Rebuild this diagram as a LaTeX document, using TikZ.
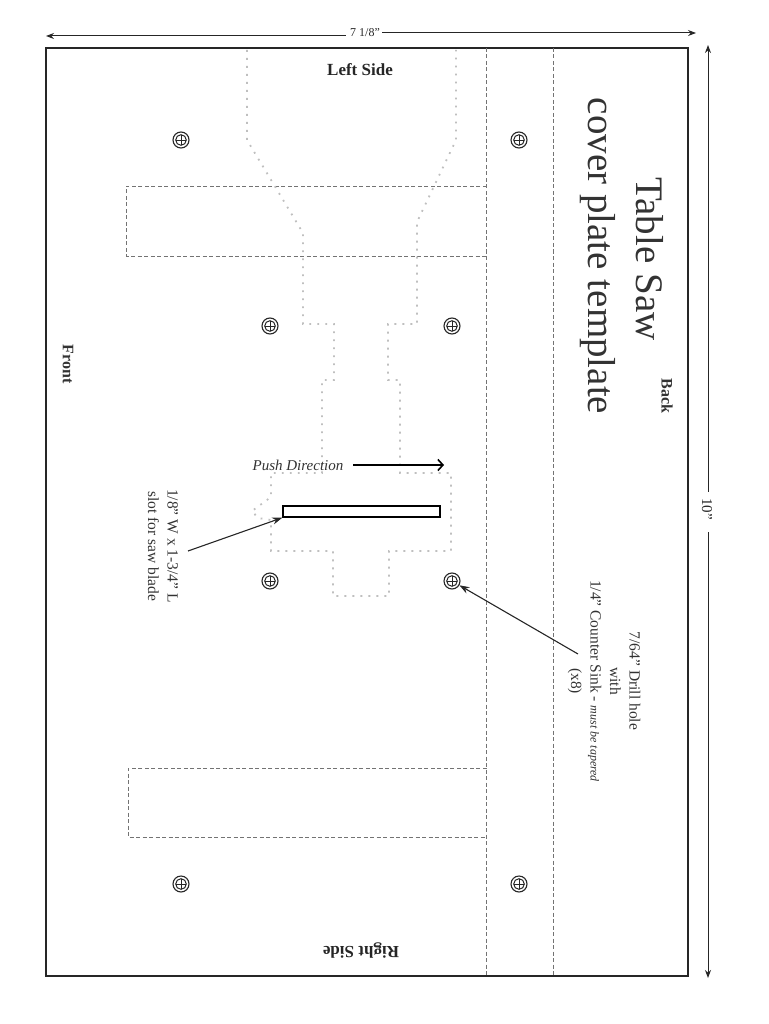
\documentclass[tikz,border=0pt]{standalone}
\usepackage{fontspec}
\setmainfont{Liberation Serif}
\usetikzlibrary{arrows.meta}
\usetikzlibrary{calc}
\tikzset{
  hole/.style={circle,draw=black!85,line width=1.1pt,minimum size=16pt,inner sep=0pt,
    path picture={
      \draw[line width=1pt] (path picture bounding box.center) circle (5.3pt);
      \draw[line width=.8pt] ($(path picture bounding box.center)+(-5,0)$) -- ($(path picture bounding box.center)+(5,0)$);
      \draw[line width=.8pt] ($(path picture bounding box.center)+(0,-5)$) -- ($(path picture bounding box.center)+(0,5)$);
    }},
  cutline/.style={gray!50,line width=1.8pt,dash pattern=on 1.8pt off 6.2pt},
  foldline/.style={black!55,line width=.8pt,dash pattern=on 4pt off 2.5pt},
  leader/.style={-{Stealth[length=10pt,width=7pt]},black!85,line width=1.1pt},
  dimline/.style={black!85,line width=1pt},
  note/.style={inner sep=0pt,align=center,rotate=-90,font=\fontsize{15.5}{19.5}\selectfont,text=black!80}
}
\begin{document}
\begin{tikzpicture}[x=1pt,y=-1pt]
      \useasboundingbox (0,0) rectangle (768,1024);

      % plate
      \draw[black!85,line width=2.4pt] (46,48) rectangle (688,976);
      \draw[foldline] (486.5,48) -- (486.5,976);
      \draw[foldline] (553,48) -- (553,976);
      \draw[foldline] (486.5,186) -- (126,186) -- (126,256) -- (486.5,256);
      \draw[foldline] (486.5,768) -- (128,768) -- (128,837) -- (486.5,837);

      % throat outline
      \draw[cutline] (247,50) -- (247,140) -- (303,233) -- (303,324) -- (334,324) -- (334,380)
        -- (322,380) -- (322,473) -- (271,473) -- (271,497) -- (252,511) -- (258,518) -- (271,520)
        -- (271,551) -- (333,551) -- (333,596) -- (389,596) -- (389,551) -- (451,551)
        -- (451,473) -- (400,473) -- (400,380) -- (388,380) -- (388,324) -- (417,324)
        -- (417,222) -- (456,140) -- (456,50);

      \foreach \name/\x/\y in {a/181/140,b/519/140,c/270/326,d/452/326,e/270/581,f/452/581,g/181/884,h/519/884}
        \node[hole] (hole-\name) at (\x,\y) {};

      \node[draw=black,fill=white,line width=1.4pt,minimum width=157pt,minimum height=11pt,inner sep=0pt] (slot) at (361.5,511.5) {};

      % texts
      \node[note,font=\fontsize{39}{39}\selectfont] (title) at (650,259) {Table Saw};
      \node[note,font=\fontsize{39}{39}\selectfont] (subtitle) at (598,256) {cover plate template};
      \node[note,font=\fontsize{16}{16}\selectfont\bfseries] (back) at (667,396) {Back};
      \node[note,font=\fontsize{16}{16}\selectfont\bfseries] (front) at (68,364) {Front};
      \node[inner sep=0pt,font=\fontsize{17}{17}\selectfont\bfseries,text=black!85] (left) at (360,70) {Left Side};
      \node[inner sep=0pt,rotate=180,font=\fontsize{17}{17}\selectfont\bfseries,text=black!85] (right) at (361,951) {Right Side};
      \node[inner sep=0pt,font=\fontsize{15}{15}\selectfont\itshape,text=black!80] (push) at (298,465) {Push Direction};
      \node[note] (slotnote) at (163,546) {1/8'' W x 1-3/4'' L\\slot for saw blade};
      \node[note] (drillnote) at (604,681) {7/64'' Drill hole\\with\\1/4'' Counter Sink - {\fontsize{12}{12}\selectfont\itshape must be tapered}\\(x8)};
      \node[inner sep=0pt,font=\fontsize{12}{12}\selectfont,text=black!85] (width) at (365,33) {7 1/8''};
      \node[inner sep=0pt,rotate=-90,font=\fontsize{15}{15}\selectfont,text=black!85] (height) at (707,509) {10''};

      % arrows
      \coordinate (push-a) at (353,465);
      \coordinate (push-b) at (444,465);
      \coordinate (slot-lead) at (188,551);
      \coordinate (drill-lead) at (578,654);
      \coordinate (w-a) at (46,36);
      \coordinate (w-b) at (696,33);
      \coordinate (h-a) at (708,45);
      \coordinate (h-b) at (708,978);

      \path[-{Straight Barb[length=5pt,width=11pt]},black,line width=1.6pt] (push-a) edge (push-b);
      \path[leader] (slot-lead) edge (slot.south west);
      \path[leader] (drill-lead) edge (hole-f);
      \draw[dimline,{Stealth[length=8pt,width=6pt]}-] (w-a) -- (346,36);
      \draw[dimline,-{Stealth[length=8pt,width=6pt]}] (382,33) -- (w-b);
      \draw[dimline,{Stealth[length=8pt,width=6pt]}-] (h-a) -- (708,492);
      \draw[dimline,-{Stealth[length=8pt,width=6pt]}] (708,532) -- (h-b);
    \end{tikzpicture}
\end{document}
